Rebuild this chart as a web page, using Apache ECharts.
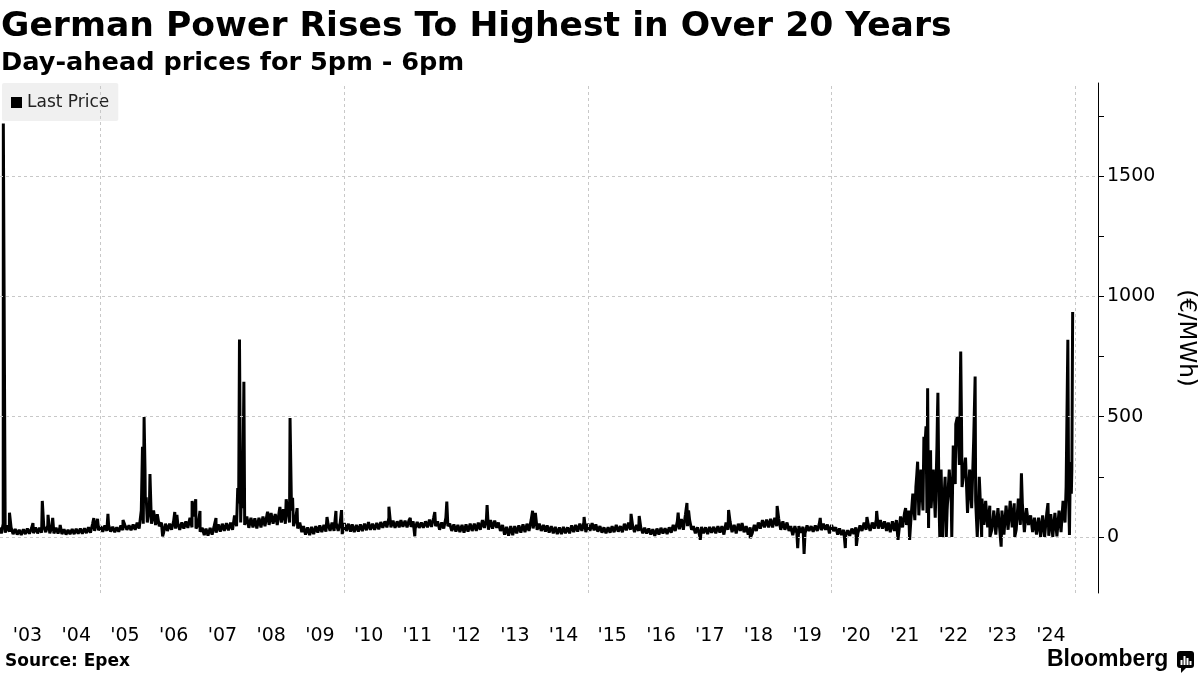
<!DOCTYPE html>
<html>
<head>
<meta charset="utf-8">
<script src="https://cdn.jsdelivr.net/npm/echarts@6/dist/echarts.min.js"></script>
<style>
html,body{margin:0;padding:0;background:#fff;}
#chart{width:1200px;height:675px;}
</style>
</head>
<body>
<div id="chart"></div>
<script>
// Semi-monthly readings (1st and 16th of each month), EUR/MWh, 5pm-6pm day-ahead
const p2003 = [55,18,48,22,40,12,33,10,30,8,32,12,35,14,36,16,40,15,38,18,45,20,48,15];
const p2004 = [42,15,38,14,40,12,32,10,30,12,33,12,34,14,35,14,36,16,40,18,55,25,60,28];
const p2005 = [45,22,48,25,50,22,42,20,40,22,48,28,50,30,48,28,52,30,60,35,110,55,150,60];
const p2006 = [120,55,110,50,95,45,60,15,55,25,55,30,65,35,58,30,60,35,65,38,80,40,85,35];
const p2007 = [50,22,38,8,35,6,38,10,45,18,52,22,55,25,58,28,60,30,90,45,140,60,120,50];
const p2008 = [85,38,80,40,78,35,80,40,85,45,95,50,100,55,95,50,110,60,115,55,120,60,110,45];
const p2009 = [75,35,60,20,45,10,40,8,42,12,45,18,48,20,50,22,55,25,60,25,58,25,60,12];
const p2010 = [58,25,55,22,52,20,50,22,52,25,55,28,62,30,55,30,58,32,62,38,65,40,80,40];
const p2011 = [68,38,65,40,70,42,68,40,70,42,65,35,62,38,60,38,65,40,72,42,80,45,65,30];
const p2012 = [60,35,80,45,55,25,52,22,50,20,50,18,52,22,55,25,55,25,60,30,70,38,75,30];
const p2013 = [70,35,68,38,60,25,50,10,42,5,45,8,45,15,48,18,52,20,55,25,70,35,80,30];
const p2014 = [55,25,50,22,48,18,45,15,42,12,40,12,42,15,40,15,48,20,50,22,55,25,60,20];
const p2015 = [55,25,58,28,52,22,45,18,40,15,40,18,45,20,50,22,45,20,55,28,60,30,50,20];
const p2016 = [50,25,40,15,38,15,35,10,32,5,35,10,38,15,36,12,40,18,50,25,65,32,75,30];
const p2017 = [95,45,70,30,45,15,40,8,42,15,40,12,42,18,42,15,45,18,45,10,60,30,65,20];
const p2018 = [50,15,55,25,58,20,45,10,40,15,50,25,60,35,70,40,72,40,75,40,80,45,75,30];
const p2019 = [65,30,60,25,45,8,45,15,45,18,42,15,48,25,45,22,48,25,55,28,55,30,52,15];
const p2020 = [50,25,40,10,35,8,30,5,28,5,35,12,40,15,48,25,60,30,55,25,60,35,70,35];
const p2021 = [70,35,65,25,60,20,65,25,70,5,85,40,100,50,110,60,180,70,260,90,280,110,380,100];
const p2022 = [300,120,280,80,380,150,280,90,250,110,280,140,380,220,500,300,470,200,330,100,280,120,400,150];
const p2023 = [60,200,160,50,150,40,130,30,110,10,120,20,110,10,130,30,150,40,140,30,160,50,140,20];
const p2024 = [120,50,90,20,80,10,80,0,90,0,100,5,95,0,100,2,110,20,150,60];

// Individual days (spikes, dips, series start and end)
const dailyPoints = [
  ['2002-12-09',40],['2002-12-18',15],
  ['2003-01-02',1720],['2003-02-17',101],['2003-08-12',58],['2003-10-21',150],['2003-12-03',92],
  ['2004-01-07',79],['2004-03-03',50],['2004-11-10',79],['2004-12-08',75],
  ['2005-02-24',96],['2005-06-17',70],['2005-11-10',375],['2005-11-22',499],['2005-11-29',279],['2005-12-08',165],
  ['2006-01-05',262],['2006-04-10',2],['2006-07-10',104],['2006-07-26',92],['2006-11-17',150],['2006-12-14',157],
  ['2007-01-15',108],['2007-05-15',79],['2007-10-25',204],['2007-11-07',821],['2007-11-22',204],['2007-12-10',645],
  ['2008-06-05',105],['2008-07-02',108],['2008-09-05',125],['2008-10-22',157],['2008-11-20',495],['2008-12-09',163],['2009-01-12',120],
  ['2009-08-24',83],['2009-10-30',108],['2009-12-11',112],['2009-12-26',5],
  ['2010-12-01',126],
  ['2011-05-10',79],['2011-06-13',3],['2011-11-10',104],
  ['2012-02-08',147],['2012-12-06',133],
  ['2013-11-12',109],['2013-12-03',100],
  ['2014-12-03',83],
  ['2015-11-20',96],
  ['2016-01-20',87],['2016-11-07',101],
  ['2017-01-12',141],['2017-01-24',110],['2017-04-22',-12],['2017-11-20',112],
  ['2018-05-01',-5],['2018-11-19',129],
  ['2019-04-22',-47],['2019-06-09',-71],['2019-10-08',79],
  ['2020-04-13',-46],['2020-07-05',-37],['2020-09-22',83],['2020-12-04',108],
  ['2021-05-13',-12],['2021-07-09',120],['2021-08-08',-12],['2021-09-24',208],['2021-10-07',313],['2021-11-23',417],['2021-12-09',460],['2021-12-21',618],['2021-12-28',37],
  ['2022-01-12',361],['2022-03-04',490],['2022-03-08',600],['2022-03-22',0],['2022-04-12',0],['2022-05-10',0],['2022-06-20',0],['2022-07-20',470],['2022-08-26',771],['2022-09-05',208],['2022-12-12',667],['2022-12-28',0],
  ['2023-01-12',250],['2023-01-30',0],['2023-04-02',0],['2023-06-25',-40],['2023-10-05',0],['2023-11-24',265],
  ['2024-06-10',141],['2024-10-24',208],['2024-11-06',820],['2024-11-12',160],['2024-11-18',8],['2024-11-25',312],['2024-12-02',180],['2024-12-06',280],['2024-12-12',936]
];

const yTickValues = [0,250,500,750,1000,1250,1500,1750];
const yLabelValues = [0,500,1000,1500];
const xLabelYears = [2003,2004,2005,2006,2007,2008,2009,2010,2011,2012,2013,2014,2015,2016,2017,2018,2019,2020,2021,2022,2023,2024];
const xGridYears = [2005,2010,2015,2020,2025];

const yearly = [
  [2003,p2003],[2004,p2004],[2005,p2005],[2006,p2006],[2007,p2007],[2008,p2008],
  [2009,p2009],[2010,p2010],[2011,p2011],[2012,p2012],[2013,p2013],[2014,p2014],
  [2015,p2015],[2016,p2016],[2017,p2017],[2018,p2018],[2019,p2019],[2020,p2020],
  [2021,p2021],[2022,p2022],[2023,p2023],[2024,p2024]
];
const seriesData = [];
yearly.forEach(function (pair) {
  const yr = pair[0];
  pair[1].forEach(function (v, i) {
    seriesData.push([Date.UTC(yr, Math.floor(i / 2), i % 2 ? 16 : 1), v]);
  });
});
dailyPoints.forEach(function (p) { seriesData.push([Date.parse(p[0] + 'T00:00:00Z'), p[1]]); });
seriesData.sort(function (a, b) { return a[0] - b[0]; });

const FONT = 'DejaVu Sans';
const chart = echarts.init(document.getElementById('chart'), null, {renderer: 'canvas'});
chart.setOption({
  animation: false,
  backgroundColor: '#ffffff',
  title: [
    {text: 'German Power Rises To Highest in Over 20 Years', left: 1, top: 10, padding: 0,
     textStyle: {fontFamily: FONT, fontWeight: 'bold', fontSize: 34.6, color: '#000'}},
    {text: 'Day-ahead prices for 5pm - 6pm', left: 1, top: 50, padding: 0,
     textStyle: {fontFamily: FONT, fontWeight: 'bold', fontSize: 25.6, color: '#000'}}
  ],
  legend: {
    data: ['Last Price'], left: 2, top: 83, padding: [11, 9, 10, 9],
    backgroundColor: '#f0f0f0', borderRadius: 2, icon: 'rect', itemWidth: 11, itemHeight: 11, itemGap: 4,
    textStyle: {fontFamily: FONT, fontSize: 17, color: '#222'},
    selectedMode: false
  },
  grid: {left: 0, right: 102, top: 83, bottom: 82, containLabel: false, outerBoundsMode: 'none'},
  xAxis: {
    type: 'value',
    min: Date.UTC(2002, 11, 8),
    max: Date.UTC(2025, 5, 20),
    axisLine: {show: false, onZero: false},
    axisTick: {show: false},
    splitLine: {show: false},
    axisLabel: {
      customValues: xLabelYears.map(function (y) { return Date.UTC(y, 6, 2); }),
      formatter: function (v) { return "'" + String(new Date(v).getUTCFullYear()).slice(2); },
      fontFamily: FONT, fontSize: 19, color: '#000', margin: 34, hideOverlap: false
    }
  },
  yAxis: {
    type: 'value', position: 'right', min: -233, max: 1888,
    axisLine: {show: true, lineStyle: {color: '#000', width: 1}},
    axisTick: {show: true, customValues: yTickValues, length: 6, lineStyle: {color: '#000'}},
    axisLabel: {customValues: yLabelValues, formatter: function (v) { return String(v); },
      fontFamily: FONT, fontSize: 19, color: '#000', margin: 9},
    splitLine: {show: false},
    name: '(€/MWh)', nameLocation: 'middle', nameRotate: -90, nameGap: 76,
    nameTextStyle: {fontFamily: FONT, fontSize: 23, color: '#000'}
  },
  series: [
    {
      name: 'gridlines', type: 'line', data: [[Date.UTC(2002, 11, 8), null]], z: 1, silent: true,
      showSymbol: false,
      markLine: {
        silent: true, symbol: 'none', animation: false,
        label: {show: false},
        lineStyle: {color: '#c8c8c8', type: [3, 3], width: 1},
        data: yLabelValues.map(function (v) { return {yAxis: v}; })
          .concat(xGridYears.map(function (y) { return {xAxis: Date.UTC(y, 0, 1)}; }))
      }
    },
    {
      name: 'Last Price', type: 'line', data: seriesData, z: 3,
      showSymbol: false, symbol: 'none',
      lineStyle: {color: '#000', width: 3, join: 'bevel'}, itemStyle: {color: '#000'}
    }
  ],
  graphic: [
    {type: 'text', left: 5, top: 653, style: {text: 'Source: Epex', font: 'bold 17px "DejaVu Sans"', fill: '#000'}},
    {type: 'text', left: 1047, top: 648, style: {text: 'Bloomberg', font: 'bold 23px "Liberation Sans"', fill: '#000'}},
    {type: 'rect', shape: {x: 1177, y: 651, width: 17, height: 17, r: 3}, style: {fill: '#000'}},
    {type: 'polygon', shape: {points: [[1181, 667], [1181, 673], [1187, 667]]}, style: {fill: '#000'}},
    {type: 'rect', shape: {x: 1180.5, y: 660, width: 2, height: 5}, style: {fill: '#fff'}},
    {type: 'rect', shape: {x: 1183.5, y: 656, width: 2, height: 9}, style: {fill: '#fff'}},
    {type: 'rect', shape: {x: 1186.5, y: 658, width: 2, height: 7}, style: {fill: '#fff'}},
    {type: 'rect', shape: {x: 1189.5, y: 661, width: 2, height: 4}, style: {fill: '#fff'}}
  ]
});
</script>
</body>
</html>
